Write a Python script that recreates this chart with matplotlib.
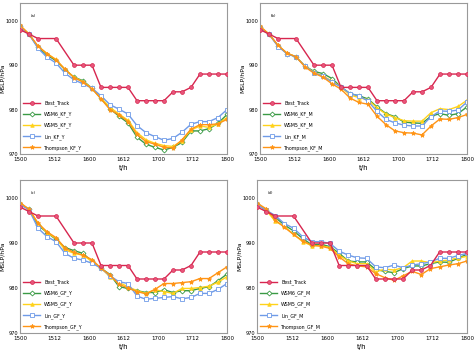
import numpy as np
import matplotlib
matplotlib.use('Agg')
import matplotlib.pyplot as plt

# time axis: 24 output steps, labelled by day+hour
steps = np.arange(24)
tick_labels = ['1500', '1512', '1600', '1612', '1700', '1712', '1800']

# best track (missing some steps early on)
bt_steps = [0, 1, 2, 4, 6, 7, 8, 9, 10, 11, 12, 13, 14, 15, 16, 17, 18, 19, 20, 21, 22, 23]
bt_vals = [998, 997, 996, 996, 990, 990, 990, 985, 985, 985, 985, 982, 982, 982, 982,
           984, 984, 985, 988, 988, 988, 988]

# (a) KF_Y
wsm6_kf_y = [998.8, 997, 994, 992.3, 991, 989, 987.3, 986.5, 984.8, 982.5, 980.2, 978.5,
             977, 973.8, 972.2, 971.5, 970.9, 971.5, 972.6, 975.2, 975.2, 975.7, 976.9, 978.9]
wsm5_kf_y = [998.9, 997, 994.2, 992.6, 991.3, 989, 987.3, 986.3, 984.8, 982.6, 980.5, 979,
             977.6, 974.8, 973.2, 972.4, 971.9, 971.7, 973, 975.4, 976.3, 976.0, 976.8, 978.2]
lin_kf_y = [998.5, 997, 993.8, 991.8, 990.5, 988.2, 986.7, 985.8, 984.8, 983.1, 981.1, 980.1,
            979, 976.4, 974.8, 973.9, 973.1, 973.5, 974.9, 976.7, 977.3, 977.3, 978.2, 980]
thom_kf_y = [999, 997, 994.3, 992.6, 991.2, 989.1, 987.2, 986.2, 984.7, 982.4, 980, 978.8,
             977.3, 974.4, 972.8, 972.2, 971.5, 971.4, 973.2, 975.6, 976.6, 976.6, 976.8, 977.8]

# (b) KF_M
wsm6_kf_m = [998.5, 997, 994.4, 992.6, 991.9, 989.8, 988.6, 988.1, 987, 985.1, 983.6, 983.1,
             982.4, 980.6, 979.1, 978.4, 977.2, 977, 976.9, 978.5, 979.1, 978.7, 979.1, 980.6]
wsm5_kf_m = [998.6, 997, 994.4, 992.7, 991.9, 989.8, 988.4, 987.6, 986.4, 985.1, 983.3, 982.7,
             982.2, 980.4, 979, 978.2, 977.5, 977.4, 977.4, 979.3, 980.2, 980, 980.7, 982.1]
lin_kf_m = [998.4, 997, 994.2, 992.6, 991.8, 989.8, 988.3, 987.5, 986.2, 985.1, 983.6, 983.1,
            981.9, 979.6, 977.8, 977, 976.5, 976.3, 976.3, 978.4, 979.7, 979.6, 979.9, 981.7]
thom_kf_m = [998.8, 997, 994.5, 992.7, 991.9, 989.6, 988.2, 987.3, 985.8, 984.6, 982.6, 981.6,
             981.2, 978.5, 976.6, 975.2, 974.8, 974.7, 974.3, 976.3, 977.9, 977.8, 978.2, 978.9]

# (c) GF_Y
wsm6_gf_y = [998.7, 997.5, 994, 992.3, 990.8, 989, 988.3, 987.7, 985.9, 984.4, 983, 980.3,
             979.9, 979.4, 979, 979, 979.6, 979, 979.4, 979.4, 979.9, 980.3, 981.6, 983.1]
wsm5_gf_y = [998.8, 997.5, 994.4, 992.3, 991, 988.5, 987.7, 987.3, 985.9, 984.4, 982.5, 981.2,
             980.3, 979.4, 978.8, 979.6, 979.2, 978.8, 979.9, 979.9, 980.1, 980.4, 981.3, 982.5]
lin_gf_y = [998.5, 997.4, 993.3, 991.4, 990.3, 987.7, 986.6, 986.2, 985.5, 984.4, 982.7, 981.4,
            981, 978.2, 977.5, 977.7, 977.9, 978.1, 977.6, 977.9, 978.8, 978.8, 979.7, 981]
thom_gf_y = [999, 997.5, 994.4, 992.5, 991.2, 988.9, 987.9, 987.3, 986.3, 984.4, 982.9, 980.8,
             980, 979.2, 978.7, 979.7, 981, 981, 981.2, 981.4, 982.1, 982.1, 983.4, 984.7]

# (d) GF_M
wsm6_gf_m = [998.6, 997.3, 995.7, 994, 992.7, 991, 989.6, 989.7, 989.2, 987.7, 986, 985.8,
             985.8, 984.1, 983.7, 983.4, 984.3, 984.9, 984.9, 985.4, 985.8, 985.7, 986.6, 987.5]
wsm5_gf_m = [998.7, 997.3, 994.8, 993.7, 991.9, 990.3, 989.4, 989.4, 989, 987.3, 986, 985.4,
             985.4, 983.6, 984.2, 984, 984.5, 986, 986, 985.6, 986, 986.2, 986.7, 987]
lin_gf_m = [998.5, 997.3, 996.1, 994.3, 993.3, 991.4, 990.3, 990.3, 989.9, 988.2, 987.3, 986.7,
            986.6, 984.7, 984.5, 985.1, 984.5, 985.1, 985.4, 985.8, 986.6, 986.6, 987.2, 987.7]
thom_gf_m = [998.9, 997.6, 995.1, 993.5, 991.9, 990.5, 989.5, 989.3, 988.8, 986.9, 985.4, 984.9,
             984.7, 983.2, 982.3, 981.7, 982.7, 983.7, 983, 984.3, 984.7, 985.1, 985.4, 986]

panels = [
    ('(a)', 'KF_Y', [wsm6_kf_y, wsm5_kf_y, lin_kf_y, thom_kf_y]),
    ('(b)', 'KF_M', [wsm6_kf_m, wsm5_kf_m, lin_kf_m, thom_kf_m]),
    ('(c)', 'GF_Y', [wsm6_gf_y, wsm5_gf_y, lin_gf_y, thom_gf_y]),
    ('(d)', 'GF_M', [wsm6_gf_m, wsm5_gf_m, lin_gf_m, thom_gf_m]),
]
schemes = ['WSM6', 'WSM5', 'Lin', 'Thompson']
colors = ['#3a9a45', '#ffd21a', '#6f9be8', '#ff9415']
markers = ['D', '^', 's', '*']

W, H = 474, 353
# pixel boxes: left, top, right, bottom
boxes = [(20, 3, 227, 154), (260, 3, 467, 154), (20, 180, 227, 333), (257, 180, 467, 333)]

fig = plt.figure(figsize=(W / 100, H / 100), dpi=100)

for (tag, suffix, series), (l, t, r, b) in zip(panels, boxes):
    ax = fig.add_axes([l / W, 1 - b / H, (r - l) / W, (b - t) / H])
    ax.plot(bt_steps, bt_vals, color='#d7264f', marker='o', ms=2.8, lw=1.0,
            mfc='#e8557a', mec='#d7264f', mew=0.5, label='Best_Track', zorder=5)
    for vals, name, c, m in zip(series, schemes, colors, markers):
        ax.plot(steps, vals, color=c, marker=m, ms=2.5 if m != '*' else 3.2, lw=1.0,
                mfc=c if m in ('^', '*') else 'white', mec=c, mew=0.6,
                label=f'{name}_{suffix}')

    ax.set_xlim(0, 23)
    ax.set_ylim(970, 1004)
    ax.set_xticks(np.linspace(0, 23, 7))
    ax.set_xticklabels(tick_labels, fontsize=4)
    ax.set_yticks([970, 980, 990, 1000])
    ax.tick_params(axis='y', labelsize=3.6, length=0, pad=1)
    ax.tick_params(axis='x', length=0, pad=2.5)
    for sp in ax.spines.values():
        sp.set_color('#999999')
        sp.set_linewidth(0.8)
    ax.set_xlabel('t/h', fontsize=5, labelpad=1.5)
    ax.set_ylabel('MSLP/hPa', fontsize=4.4, labelpad=0.5)
    ax.text(0.05, 0.93, tag, transform=ax.transAxes, fontsize=2.8, va='top')
    ax.legend(loc='lower left', frameon=False, fontsize=3.4, handlelength=3.6,
              labelspacing=1.15, borderaxespad=0.3, handletextpad=0.8)

fig.savefig('out.png', dpi=100)
